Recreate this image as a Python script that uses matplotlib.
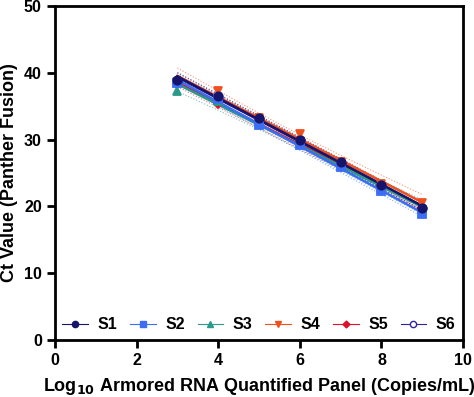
import numpy as np
import matplotlib
matplotlib.use("Agg")
import matplotlib.pyplot as plt

plt.rcParams['font.family'] = ['Liberation Sans', 'DejaVu Sans']
plt.rcParams['font.weight'] = 'bold'
plt.rcParams['mathtext.default'] = 'bf'

log_conc = [3, 4, 5, 6, 7, 8, 9]
s1 = [38.9, 36.5, 33.2, 30.0, 26.6, 23.2, 19.8]
s2 = [38.5, 36.0, 32.2, 29.2, 25.9, 22.3, 18.8]
s3 = [37.3, 35.8, 32.6, 29.6, 26.1, 22.8, 19.5]
s4 = [38.6, 37.2, 33.2, 30.8, 26.7, 23.4, 20.5]
s5 = [38.3, 35.3, 32.5, 29.5, 26.3, 23.0, 19.7]
s6 = [38.8, 36.4, 33.1, 30.0, 26.5, 23.1, 19.8]

names = ['S1', 'S2', 'S3', 'S4', 'S5', 'S6']
series = [s1, s2, s3, s4, s5, s6]
colors = ['#15156b', '#3b6ef2', '#2a9a8a', '#f0501e', '#e0102a', '#3222a0']
markers = ['o', 's', '^', 'v', 'D', 'o']

fig = plt.figure(figsize=(4.74, 3.97), dpi=100)
ax = fig.add_axes([0.116, 0.144, 0.861, 0.841])

x = np.array(log_conc, dtype=float)
xf = np.linspace(3, 9, 50)
for i, (name, ys, c, m) in enumerate(zip(names, series, colors, markers)):
    z = 10 - i  # earlier series on top, like the original
    y = np.array(ys)
    k, b = np.polyfit(x, y, 1)
    yf = k * xf + b
    # 95% confidence band of the fit
    resid = y - (k * x + b)
    s = np.sqrt(np.sum(resid ** 2) / (len(x) - 2))
    band = 2.571 * s * np.sqrt(1 / len(x) + (xf - x.mean()) ** 2 / np.sum((x - x.mean()) ** 2))
    band = np.maximum(band, 0.6)
    ax.plot(xf, yf + band, ':', color=c, lw=0.8, alpha=0.6, zorder=1)
    ax.plot(xf, yf - band, ':', color=c, lw=0.8, alpha=0.6, zorder=1)
    ax.plot(xf, yf, '-', color=c, lw=1.8, zorder=z)
    face = 'white' if name == 'S6' else c
    ax.plot(x, y, m, color=c, mfc=face, mew=1.3, ms=6 if m != 'D' else 4.5,
            linestyle='none', zorder=z + 10)
    ax.plot([], [], '-', marker=m, color=c, mfc=face, ms=4.5 if m != 'D' else 3.5,
            lw=0.8, label=name)

ax.set_xlim(0, 10)
ax.set_ylim(0, 50)
ax.set_xticks([0, 2, 4, 6, 8, 10])
ax.set_yticks([0, 10, 20, 30, 40, 50])
for sp in ax.spines.values():
    sp.set_linewidth(2)
ax.tick_params(width=2, length=6, labelsize=11.5)
ax.set_xlabel('Log$_{\\mathbf{10}}$ Armored RNA Quantified Panel (Copies/mL)',
              fontsize=13, fontweight='bold', labelpad=6)
ax.set_ylabel('Ct Value (Panther Fusion)', fontsize=13, fontweight='bold', labelpad=4)
ax.legend(loc='lower center', ncol=6, frameon=False, fontsize=11.5, handlelength=1.6,
          columnspacing=0.8, handletextpad=0.6, bbox_to_anchor=(0.5, -0.02))

fig.savefig('out.png', dpi=100)
